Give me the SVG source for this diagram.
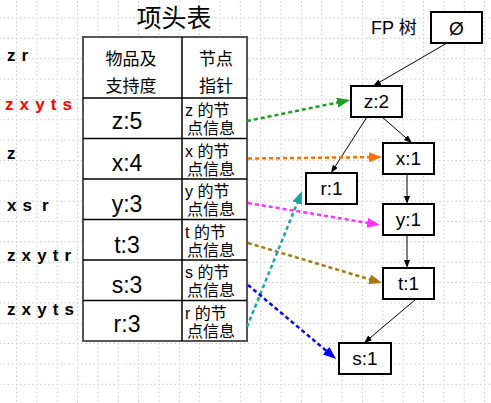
<svg xmlns="http://www.w3.org/2000/svg" width="491" height="403" viewBox="0 0 491 403">
<style>
.cjk{font-family:"Liberation Sans","Noto Sans CJK SC",sans-serif;fill:#000}
.lbl{font-family:"Liberation Sans",sans-serif;font-weight:bold;font-size:17px;letter-spacing:0.7px}
.val{font-family:"Liberation Sans",sans-serif;font-size:23px;text-anchor:middle}
.info{font-family:"Liberation Sans","Noto Sans CJK SC",sans-serif;font-size:16px}
.hdr{font-family:"Liberation Sans","Noto Sans CJK SC",sans-serif;font-size:17px;text-anchor:middle}
.box{fill:#fff;stroke:#000;stroke-width:2}
.nt{font-family:"Liberation Sans",sans-serif;font-size:19px;text-anchor:middle}
.tl{stroke:#000;stroke-width:1;fill:none}
.dl{stroke-width:2.5;stroke-dasharray:4 3;fill:none}
</style>
<defs>
<pattern id="grid" x="16" y="17.5" width="20.35" height="20.35" patternUnits="userSpaceOnUse">
<line x1="0" y1="0.5" x2="20.35" y2="0.5" stroke="#b4b4b4" stroke-width="1" stroke-dasharray="1.2 2.87"/>
<line x1="0.5" y1="0" x2="0.5" y2="20.35" stroke="#b4b4b4" stroke-width="1" stroke-dasharray="1.2 2.87"/>
</pattern>
<marker id="ab" markerUnits="userSpaceOnUse" markerWidth="9" markerHeight="7" refX="5" refY="3" orient="auto"><path d="M0,0 L8,3 L0,6 z" fill="#000"/></marker>
<marker id="ag" markerUnits="userSpaceOnUse" markerWidth="14" markerHeight="10" refX="7" refY="5" orient="auto"><path d="M0,0 L13,5 L0,10 z" fill="#1e9e1e"/></marker>
<marker id="ao" markerUnits="userSpaceOnUse" markerWidth="14" markerHeight="10" refX="7" refY="5" orient="auto"><path d="M0,0 L13,5 L0,10 z" fill="#ff7000"/></marker>
<marker id="am" markerUnits="userSpaceOnUse" markerWidth="14" markerHeight="10" refX="7" refY="5" orient="auto"><path d="M0,0 L13,5 L0,10 z" fill="#ff33ff"/></marker>
<marker id="abr" markerUnits="userSpaceOnUse" markerWidth="14" markerHeight="10" refX="7" refY="5" orient="auto"><path d="M0,0 L13,5 L0,10 z" fill="#a8780c"/></marker>
<marker id="at" markerUnits="userSpaceOnUse" markerWidth="14" markerHeight="10" refX="7" refY="5" orient="auto"><path d="M0,0 L13,5 L0,10 z" fill="#1aa5a0"/></marker>
<marker id="abl" markerUnits="userSpaceOnUse" markerWidth="14" markerHeight="10" refX="7" refY="5" orient="auto"><path d="M0,0 L13,5 L0,10 z" fill="#0000ff"/></marker>
</defs>
<rect width="491" height="403" fill="#fff"/>
<rect width="491" height="403" fill="url(#grid)"/>

<g id="left-labels">
<text class="lbl" x="7" y="61">z r</text>
<text class="lbl" x="5" y="110" fill="#ff0000">z x y t s</text>
<text class="lbl" x="7" y="159">z</text>
<text class="lbl" x="7" y="211">x s <tspan x="42">r</tspan></text>
<text class="lbl" x="7" y="261">z x y t r</text>
<text class="lbl" x="7" y="315">z x y t s</text>
</g>

<g id="table">
<text class="cjk" x="174" y="27" font-size="25" text-anchor="middle">项头表</text>
<rect x="83" y="37" width="164" height="304" fill="#fff" stroke="#555" stroke-width="2"/>
<line x1="182" y1="37" x2="182" y2="341" stroke="#000" stroke-width="1.5"/>
<g stroke="#000" stroke-width="1.5">
<line x1="83" y1="98" x2="247" y2="98"/>
<line x1="83" y1="138.5" x2="247" y2="138.5"/>
<line x1="83" y1="179" x2="247" y2="179"/>
<line x1="83" y1="219.5" x2="247" y2="219.5"/>
<line x1="83" y1="260" x2="247" y2="260"/>
<line x1="83" y1="300.5" x2="247" y2="300.5"/>
</g>
<text class="hdr" x="131" y="65">物品及</text>
<text class="hdr" x="131" y="92">支持度</text>
<text class="hdr" x="216" y="65">节点</text>
<text class="hdr" x="216" y="92">指针</text>
<text class="val" x="127" y="129">z:5</text>
<text class="val" x="127" y="171">x:4</text>
<text class="val" x="127" y="211.5">y:3</text>
<text class="val" x="127" y="252.5">t:3</text>
<text class="val" x="127" y="293">s:3</text>
<text class="val" x="127" y="332">r:3</text>
<text class="info" x="185" y="116">z 的节</text><text class="info" x="187" y="134">点信息</text>
<text class="info" x="185" y="156.5">x 的节</text><text class="info" x="187" y="174.5">点信息</text>
<text class="info" x="185" y="197">y 的节</text><text class="info" x="187" y="215">点信息</text>
<text class="info" x="185" y="237.5">t 的节</text><text class="info" x="187" y="255.5">点信息</text>
<text class="info" x="185" y="278">s 的节</text><text class="info" x="187" y="296">点信息</text>
<text class="info" x="185" y="318.5">r 的节</text><text class="info" x="187" y="336.5">点信息</text>
</g>

<text class="cjk" x="371" y="34" font-size="18">FP 树</text>

<g id="root"><rect class="box" x="431" y="12" width="51" height="31"/><text class="nt" x="456.5" y="35" font-size="20">Ø</text></g>
<g id="n-z2"><rect class="box" x="351" y="86" width="51" height="31"/><text class="nt" x="376.5" y="108">z:2</text></g>
<g id="n-x1"><rect class="box" x="383" y="143" width="51" height="31"/><text class="nt" x="408.5" y="165">x:1</text></g>
<g id="n-r1"><rect class="box" x="306" y="173" width="51" height="31"/><text class="nt" x="331.5" y="195">r:1</text></g>
<g id="n-y1"><rect class="box" x="383" y="204" width="51" height="31"/><text class="nt" x="408.5" y="226">y:1</text></g>
<g id="n-t1"><rect class="box" x="383" y="268" width="51" height="31"/><text class="nt" x="408.5" y="290">t:1</text></g>
<g id="n-s1"><rect class="box" x="339" y="343" width="52" height="31"/><text class="nt" x="365" y="365">s:1</text></g>

<g id="connectors">
<line class="tl" x1="447" y1="43" x2="375.6" y2="84.5" marker-end="url(#ab)"/>
<line class="tl" x1="367" y1="117" x2="332.6" y2="170.5" marker-end="url(#ab)"/>
<line class="tl" x1="382" y1="117" x2="409.7" y2="141" marker-end="url(#ab)"/>
<line class="tl" x1="407" y1="174" x2="407" y2="201" marker-end="url(#ab)"/>
<line class="tl" x1="407" y1="235" x2="407" y2="265" marker-end="url(#ab)"/>
<line class="tl" x1="416" y1="299" x2="366.3" y2="341.1" marker-end="url(#ab)"/>
<line class="dl" stroke="#1e9e1e" x1="247" y1="121" x2="344.1" y2="101.2" marker-end="url(#ag)"/>
<line class="dl" stroke="#ff7000" x1="248" y1="158.5" x2="376" y2="157.1" marker-end="url(#ao)"/>
<line class="dl" stroke="#ff33ff" x1="248" y1="203" x2="374.1" y2="224" marker-end="url(#am)"/>
<line class="dl" stroke="#a8780c" x1="248" y1="243" x2="376.3" y2="281.3" marker-end="url(#abr)"/>
<line class="dl" stroke="#1aa5a0" x1="247" y1="327" x2="299.8" y2="196.6" marker-end="url(#at)"/>
<line class="dl" stroke="#0000ff" x1="248" y1="285" x2="331.4" y2="355.1" marker-end="url(#abl)"/>
</g>
</svg>
